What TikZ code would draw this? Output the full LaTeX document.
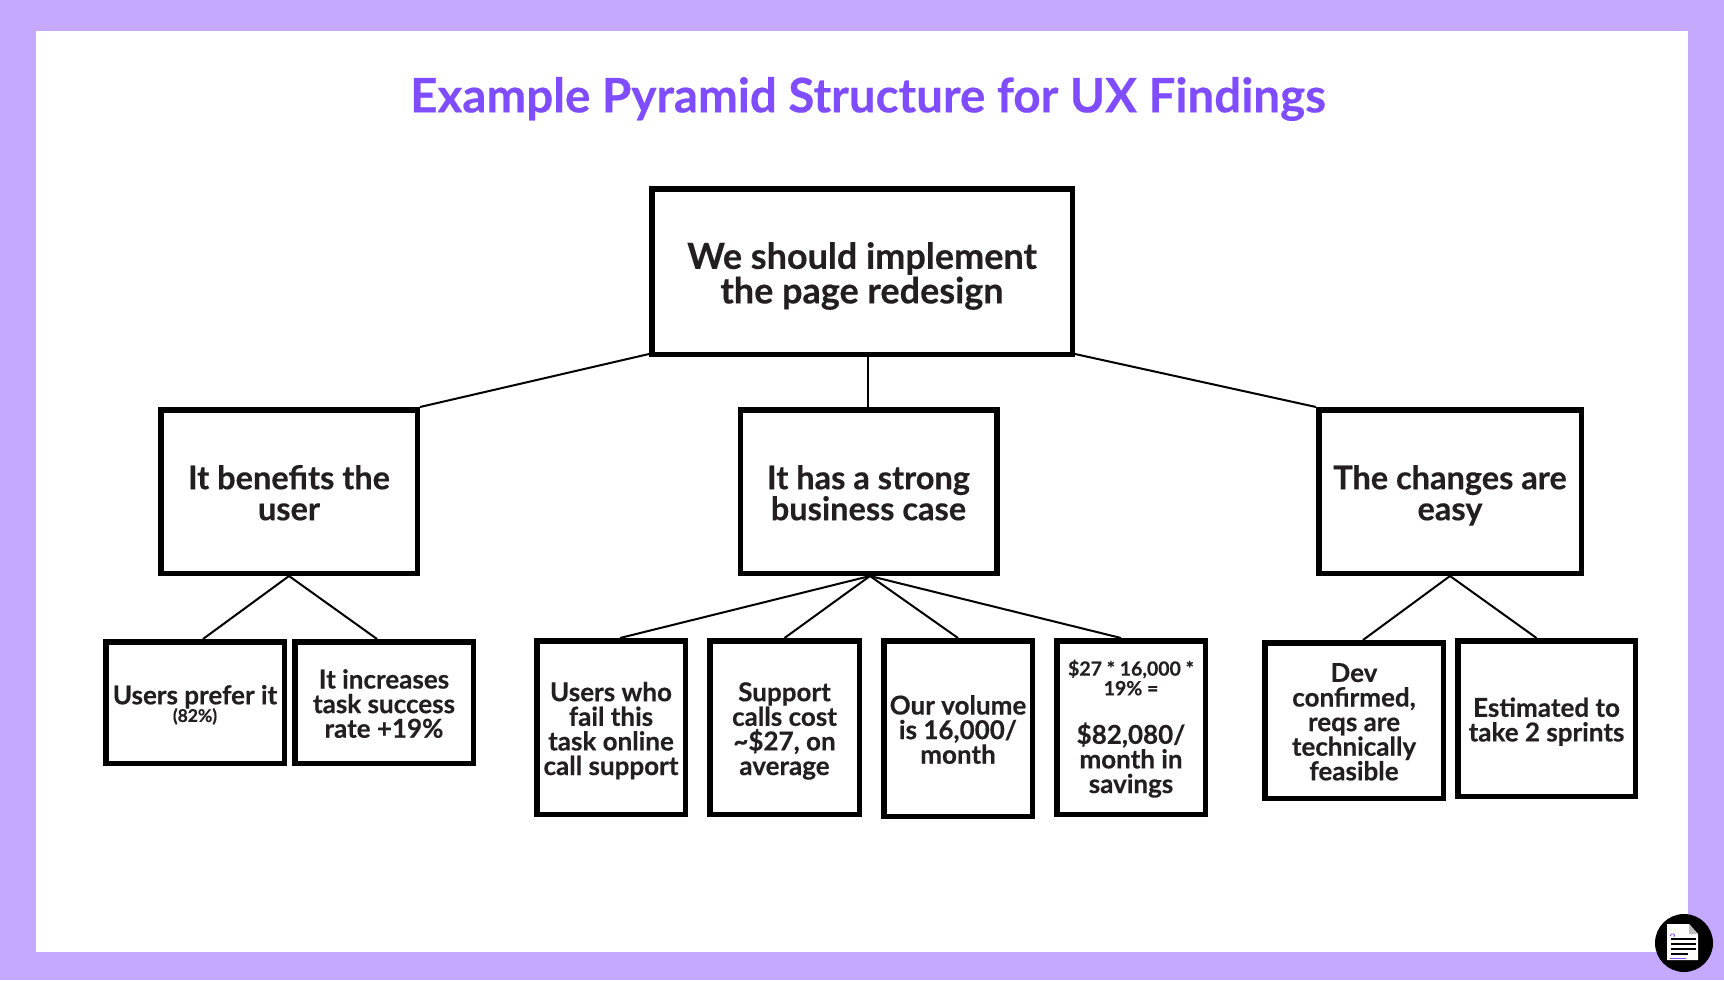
\documentclass[tikz,border=0pt]{standalone}
\usepackage{fontspec}
\usepackage{tikz}
\setmainfont{Lato}[BoldFont={Lato Bold},BoldFeatures={FakeBold=0.4}]
\definecolor{frame}{HTML}{C4A9FF}
\definecolor{heading}{HTML}{7F4DFF}
\definecolor{ink}{HTML}{231F20}
\newcommand{\sz}[2]{\fontsize{#1}{#2}\selectfont}
\newcommand{\tl}{\rule{0pt}{1.1em}}
\tikzset{
    box/.style={draw=black, line width=5.5pt, fill=white, align=center, text=ink, font=\bfseries, inner sep=0pt,
        execute at end node=\strut},
    root/.style={box, font=\bfseries\sz{36}{34.5}},
    mid/.style={box, font=\bfseries\sz{32.5}{31}},
    leaf/.style={box, font=\bfseries\sz{26}{24.6}},
    link/.style={line width=2pt, black},
}

\begin{document}
\begin{tikzpicture}[x=1pt,y=-1pt]
            \fill[frame] (0,0) rectangle (1724,980);
            \fill[white] (36,31) rectangle (1688,952);
            \useasboundingbox (0,0) rectangle (1724,980);

            \node[text=heading, font=\bfseries\sz{47.5}{48}] (title) at (868,99) {Example Pyramid Structure for UX Findings};

            \node[root, minimum width=420.5pt, minimum height=165.5pt] (top) at (862,271.5) {\tl We should implement\\the page redesign};

            \node[mid, minimum width=256.5pt, minimum height=163.5pt] (user) at (289,491.5) {\tl It benefits the\\user};
            \node[mid, minimum width=256.5pt, minimum height=163.5pt] (biz) at (868.5,491.5) {\tl It has a strong\\business case};
            \node[mid, minimum width=262.5pt, minimum height=163.5pt] (easy) at (1450,491.5) {\tl The changes are\\easy};

            \node[leaf, minimum width=178.5pt, minimum height=121.5pt] (pref) at (195,702.5) {\tl Users prefer it\\[-7pt]{\sz{17.5}{15}(82\%)}};
            \node[leaf, minimum width=178.5pt, minimum height=121.5pt] (rate) at (384,702.5) {\tl It increases\\task success\\rate +19\%};

            \node[leaf, minimum width=148.5pt, minimum height=173.5pt] (fail) at (611,727.5) {\tl Users who\\fail this\\task online\\call support};
            \node[leaf, minimum width=149.5pt, minimum height=173.5pt] (cost) at (784.5,727.5) {\tl Support\\calls cost\\\textasciitilde\$27, on\\average};
            \node[leaf, minimum width=148.5pt, minimum height=175.5pt] (vol) at (958,728.5) {\tl Our volume\\is 16,000/\\month};
            \node[leaf, minimum width=148.5pt, minimum height=173.5pt] (save) at (1131,727.5) {{\rule{0pt}{21pt}\sz{19.5}{19.3}\$27 * 16,000 *}\\[-5pt]{\sz{19.5}{19.3}19\% =}\\[24pt]\$82,080/\\month in\\savings};

            \node[leaf, minimum width=178.5pt, minimum height=155.5pt] (dev) at (1354,720.5) {\tl Dev\\confirmed,\\reqs are\\technically\\feasible};
            \node[leaf, minimum width=177.5pt, minimum height=155.5pt] (est) at (1546.5,718.5) {\tl Estimated to\\take 2 sprints};

            \draw[link] (top.south west) ++(0,-3) -- (user.north east);
            \draw[link] ([xshift=-.5pt]biz.north) -- ([xshift=-.5pt]biz.north |- top.south);
            \draw[link] (top.south east) ++(0,-3) -- (easy.north west);

            \draw[link] (user.south) -- ([xshift=8pt]pref.north);
            \draw[link] (user.south) -- ([xshift=-7pt]rate.north);

            \draw[link] ([xshift=1.5pt]biz.south) -- ([xshift=9pt]fail.north);
            \draw[link] ([xshift=1.5pt]biz.south) -- (cost.north);
            \draw[link] ([xshift=1.5pt]biz.south) -- (vol.north);
            \draw[link] ([xshift=1.5pt]biz.south) -- ([xshift=-10pt]save.north);

            \draw[link] (easy.south) -- ([xshift=9pt]dev.north);
            \draw[link] (easy.south) -- ([xshift=-10pt]est.north);

            % badge in the corner
            \fill[black] (1684,943) circle (29);
            \fill[white] (1667,924) -- (1689,924) -- (1698,934) -- (1698,960) -- (1667,960) -- cycle;
            \fill[black!25] (1689,924) -- (1698,934) -- (1689,934) -- cycle;
            \foreach \y in {939,944,949} \draw[black, line width=1.4pt] (1671,\y) -- (1696,\y);
            \draw[black, line width=1.4pt] (1671,954) -- (1688,954);
            \draw[heading, line width=1pt] (1670,958) -- (1686,958);
            \draw[heading, line width=.8pt] (1670,936) .. controls (1672,932) and (1676,934) .. (1674,937);
\end{tikzpicture}
\end{document}
